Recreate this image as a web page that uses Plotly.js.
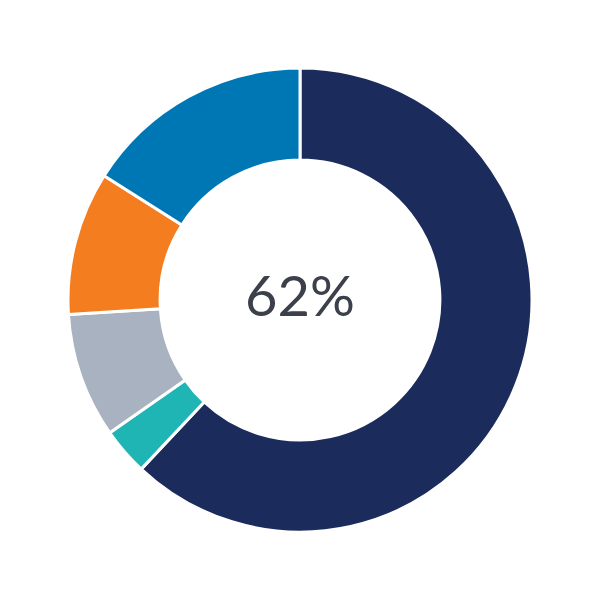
<!DOCTYPE html>
<html>
<head>
<meta charset="utf-8">
<script src="https://cdn.plot.ly/plotly-3.0.1.min.js"></script>
<style>html,body{margin:0;padding:0;background:#fff;}#chart{width:600px;height:600px;}</style>
</head>
<body>
<div id="chart"></div>
<script>
const labels = ["Segment A", "Segment B", "Segment C", "Segment D", "Segment E"];
const values = [62, 3.3, 8.7, 10, 16];
const colors = ["#1b2b5b", "#1fb5b5", "#a8b2c0", "#f47d20", "#0077b5"];
const centerText = "62%";

const trace = {
  type: "pie",
  labels: labels,
  values: values,
  hole: 0.603,
  sort: false,
  direction: "clockwise",
  rotation: 0,
  textinfo: "none",
  hoverinfo: "label+percent",
  marker: { colors: colors, line: { color: "#ffffff", width: 3 } },
  showlegend: false
};

const layout = {
  width: 600,
  height: 600,
  margin: { l: 68, r: 68, t: 68, b: 68 },
  paper_bgcolor: "#ffffff",
  showlegend: false,
  annotations: [{
    text: centerText,
    x: 0.5, y: 0.5, xref: "paper", yref: "paper",
    yshift: 6,
    showarrow: false,
    font: { family: "Lato", size: 56, color: "#3b404b", weight: 400 }
  }]
};

Plotly.newPlot("chart", [trace], layout, { displayModeBar: false, staticPlot: true });
</script>
</body>
</html>
